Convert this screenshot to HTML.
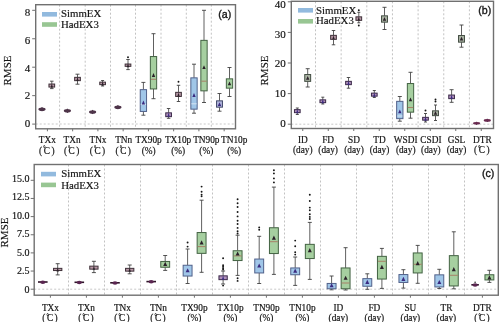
<!DOCTYPE html>
<html><head><meta charset="utf-8"><style>
html,body{margin:0;padding:0;background:#fff;width:499px;height:322px;overflow:hidden}
svg{display:block;will-change:transform;font-family:"Liberation Serif",serif;fill:#111}
text{fill:#151515;stroke:#151515;stroke-width:0.18px}
</style></head><body>
<svg width="499" height="322" viewBox="0 0 499 322">
<rect width="499" height="322" fill="#fff"/>
<line x1="59.6" y1="4.7" x2="59.6" y2="128.8" stroke="#c2c2c2" stroke-width="1" stroke-dasharray="2,2"/>
<line x1="85.2" y1="4.7" x2="85.2" y2="128.8" stroke="#c2c2c2" stroke-width="1" stroke-dasharray="2,2"/>
<line x1="110.5" y1="4.7" x2="110.5" y2="128.8" stroke="#c2c2c2" stroke-width="1" stroke-dasharray="2,2"/>
<line x1="135.5" y1="4.7" x2="135.5" y2="128.8" stroke="#c2c2c2" stroke-width="1" stroke-dasharray="2,2"/>
<line x1="161" y1="4.7" x2="161" y2="128.8" stroke="#c2c2c2" stroke-width="1" stroke-dasharray="2,2"/>
<line x1="186.3" y1="4.7" x2="186.3" y2="128.8" stroke="#c2c2c2" stroke-width="1" stroke-dasharray="2,2"/>
<line x1="211.3" y1="4.7" x2="211.3" y2="128.8" stroke="#c2c2c2" stroke-width="1" stroke-dasharray="2,2"/>
<line x1="35.7" y1="124" x2="235.5" y2="124" stroke="#c8c8c8" stroke-width="1" stroke-dasharray="2,2"/>
<line x1="32.2" y1="124.1" x2="35.7" y2="124.1" stroke="#707070" stroke-width="1"/>
<text x="30.200000000000003" y="126.8" text-anchor="end" font-size="11">0</text>
<line x1="32.2" y1="95.64999999999999" x2="35.7" y2="95.64999999999999" stroke="#707070" stroke-width="1"/>
<text x="30.200000000000003" y="99.2" text-anchor="end" font-size="11">2</text>
<line x1="32.2" y1="67.19999999999999" x2="35.7" y2="67.19999999999999" stroke="#707070" stroke-width="1"/>
<text x="30.200000000000003" y="71.6" text-anchor="end" font-size="11">4</text>
<line x1="32.2" y1="38.75" x2="35.7" y2="38.75" stroke="#707070" stroke-width="1"/>
<text x="30.200000000000003" y="43.999999999999986" text-anchor="end" font-size="11">6</text>
<line x1="32.2" y1="10.299999999999997" x2="35.7" y2="10.299999999999997" stroke="#707070" stroke-width="1"/>
<text x="30.200000000000003" y="16.399999999999988" text-anchor="end" font-size="11">8</text>
<line x1="47.4" y1="128.8" x2="47.4" y2="131.3" stroke="#707070" stroke-width="1"/>
<text x="47.3" y="143.0" text-anchor="middle" font-size="9.3">TXx</text>
<text x="46.8" y="153.5" text-anchor="middle" font-size="9.3">(<tspan dx="1.1" dy="-3.3" font-size="5.5">°</tspan><tspan dx="-1.7" dy="3.3">C</tspan><tspan dx="1.4">)</tspan></text>
<line x1="72.65" y1="128.8" x2="72.65" y2="131.3" stroke="#707070" stroke-width="1"/>
<text x="72.1" y="143.0" text-anchor="middle" font-size="9.3">TXn</text>
<text x="71.6" y="153.5" text-anchor="middle" font-size="9.3">(<tspan dx="1.1" dy="-3.3" font-size="5.5">°</tspan><tspan dx="-1.7" dy="3.3">C</tspan><tspan dx="1.4">)</tspan></text>
<line x1="97.9" y1="128.8" x2="97.9" y2="131.3" stroke="#707070" stroke-width="1"/>
<text x="98" y="143.0" text-anchor="middle" font-size="9.3">TNx</text>
<text x="97.5" y="153.5" text-anchor="middle" font-size="9.3">(<tspan dx="1.1" dy="-3.3" font-size="5.5">°</tspan><tspan dx="-1.7" dy="3.3">C</tspan><tspan dx="1.4">)</tspan></text>
<line x1="123.15" y1="128.8" x2="123.15" y2="131.3" stroke="#707070" stroke-width="1"/>
<text x="123.7" y="143.0" text-anchor="middle" font-size="9.3">TNn</text>
<text x="123.2" y="153.5" text-anchor="middle" font-size="9.3">(<tspan dx="1.1" dy="-3.3" font-size="5.5">°</tspan><tspan dx="-1.7" dy="3.3">C</tspan><tspan dx="1.4">)</tspan></text>
<line x1="148.4" y1="128.8" x2="148.4" y2="131.3" stroke="#707070" stroke-width="1"/>
<text x="148.6" y="143.0" text-anchor="middle" font-size="9.3">TX90p</text>
<text x="148.6" y="153.5" text-anchor="middle" font-size="9.3">(%)</text>
<line x1="173.65" y1="128.8" x2="173.65" y2="131.3" stroke="#707070" stroke-width="1"/>
<text x="178.1" y="143.0" text-anchor="middle" font-size="9.3">TX10p</text>
<text x="178.1" y="153.5" text-anchor="middle" font-size="9.3">(%)</text>
<line x1="198.9" y1="128.8" x2="198.9" y2="131.3" stroke="#707070" stroke-width="1"/>
<text x="206.3" y="143.0" text-anchor="middle" font-size="9.3">TN90p</text>
<text x="206.3" y="153.5" text-anchor="middle" font-size="9.3">(%)</text>
<line x1="224.15" y1="128.8" x2="224.15" y2="131.3" stroke="#707070" stroke-width="1"/>
<text x="234.2" y="143.0" text-anchor="middle" font-size="9.3">TN10p</text>
<text x="234.2" y="153.5" text-anchor="middle" font-size="9.3">(%)</text>
<rect x="42" y="12" width="15" height="4.6" fill="#92bade"/>
<rect x="42" y="22.2" width="15" height="4.6" fill="#98c693"/>
<text x="61" y="16.9" font-size="10.8">SimmEX</text>
<text x="61" y="28.1" font-size="10.8">HadEX3</text>
<text x="231.3" y="17.8" font-size="10.6" text-anchor="end" font-family="Liberation Sans" style="stroke-width:0.35px">(a)</text>
<text x="11.2" y="70.5" font-size="11" text-anchor="middle" transform="rotate(-90 11.2 70.5)">RMSE</text>
<line x1="42" y1="107.15" x2="42" y2="111.25" stroke="#3a2a38" stroke-width="1"/>
<ellipse cx="42" cy="109.2" rx="3.6" ry="1.75" fill="#4e3449"/>
<line x1="51.8" y1="81.2" x2="51.8" y2="84.05" stroke="#606060" stroke-width="1"/>
<line x1="51.8" y1="87.05000000000001" x2="51.8" y2="88.6" stroke="#606060" stroke-width="1"/>
<line x1="50.05" y1="81.2" x2="53.55" y2="81.2" stroke="#404040" stroke-width="0.9"/>
<line x1="50.05" y1="88.6" x2="53.55" y2="88.6" stroke="#404040" stroke-width="0.9"/>
<rect x="48.949999999999996" y="84.05" width="5.7" height="3.000000000000014" fill="#b898a6" stroke="#3e3038" stroke-width="1"/>
<path d="M50.599999999999994 87.55000000000001 L53.0 87.55000000000001 L51.8 83.65000000000002 Z" fill="#2a2028"/>
<line x1="67.4" y1="108.75" x2="67.4" y2="112.85" stroke="#3a2a38" stroke-width="1"/>
<ellipse cx="67.4" cy="110.8" rx="3.6" ry="1.75" fill="#4e3449"/>
<line x1="77.5" y1="74.2" x2="77.5" y2="77.35" stroke="#606060" stroke-width="1"/>
<line x1="77.5" y1="80.65" x2="77.5" y2="84.2" stroke="#606060" stroke-width="1"/>
<line x1="75.5" y1="74.2" x2="79.5" y2="74.2" stroke="#404040" stroke-width="0.9"/>
<line x1="75.5" y1="84.2" x2="79.5" y2="84.2" stroke="#404040" stroke-width="0.9"/>
<rect x="74.65" y="77.35" width="5.7" height="3.3000000000000114" fill="#b898a6" stroke="#3e3038" stroke-width="1"/>
<path d="M76.3 81.0 L78.7 81.0 L77.5 77.10000000000001 Z" fill="#2a2028"/>
<line x1="92.6" y1="109.95" x2="92.6" y2="114.05" stroke="#3a2a38" stroke-width="1"/>
<ellipse cx="92.6" cy="112" rx="3.6" ry="1.75" fill="#4e3449"/>
<line x1="102.6" y1="80.5" x2="102.6" y2="82.14999999999999" stroke="#606060" stroke-width="1"/>
<line x1="102.6" y1="84.65" x2="102.6" y2="86" stroke="#606060" stroke-width="1"/>
<line x1="101.1" y1="80.5" x2="104.1" y2="80.5" stroke="#404040" stroke-width="0.9"/>
<line x1="101.1" y1="86" x2="104.1" y2="86" stroke="#404040" stroke-width="0.9"/>
<rect x="99.75" y="82.14999999999999" width="5.7" height="2.500000000000014" fill="#b898a6" stroke="#3e3038" stroke-width="1"/>
<path d="M101.39999999999999 85.4 L103.8 85.4 L102.6 81.50000000000001 Z" fill="#2a2028"/>
<line x1="117.9" y1="105.15" x2="117.9" y2="109.25" stroke="#3a2a38" stroke-width="1"/>
<ellipse cx="117.9" cy="107.2" rx="3.6" ry="1.75" fill="#4e3449"/>
<line x1="128" y1="59.5" x2="128" y2="64.05" stroke="#606060" stroke-width="1"/>
<line x1="128" y1="66.35000000000001" x2="128" y2="69.6" stroke="#606060" stroke-width="1"/>
<line x1="126.25" y1="59.5" x2="129.75" y2="59.5" stroke="#404040" stroke-width="0.9"/>
<line x1="126.25" y1="69.6" x2="129.75" y2="69.6" stroke="#404040" stroke-width="0.9"/>
<rect x="125.15" y="64.05" width="5.7" height="2.3000000000000114" fill="#b898a6" stroke="#3e3038" stroke-width="1"/>
<path d="M126.8 67.2 L129.2 67.2 L128 63.30000000000001 Z" fill="#2a2028"/>
<circle cx="128" cy="57.3" r="0.95" fill="#151515"/>
<line x1="143.4" y1="82.4" x2="143.4" y2="89.64999999999999" stroke="#606060" stroke-width="1"/>
<line x1="143.4" y1="111.45" x2="143.4" y2="115.2" stroke="#606060" stroke-width="1"/>
<line x1="141.4" y1="82.4" x2="145.4" y2="82.4" stroke="#404040" stroke-width="0.9"/>
<line x1="141.4" y1="115.2" x2="145.4" y2="115.2" stroke="#404040" stroke-width="0.9"/>
<rect x="140.25" y="89.64999999999999" width="6.3" height="21.80000000000001" fill="#a0c6e8" stroke="#51618a" stroke-width="1"/>
<line x1="140.75" y1="104.4" x2="146.05" y2="104.4" stroke="#dce8f4" stroke-width="0.9"/>
<path d="M141.70000000000002 104.5 L145.1 104.5 L143.4 100.60000000000001 Z" fill="#3a2a80"/>
<line x1="153.5" y1="33.7" x2="153.5" y2="56.550000000000004" stroke="#606060" stroke-width="1"/>
<line x1="153.5" y1="88.95" x2="153.5" y2="98.7" stroke="#606060" stroke-width="1"/>
<line x1="151.5" y1="33.7" x2="155.5" y2="33.7" stroke="#404040" stroke-width="0.9"/>
<line x1="151.5" y1="98.7" x2="155.5" y2="98.7" stroke="#404040" stroke-width="0.9"/>
<rect x="150.35" y="56.550000000000004" width="6.3" height="32.4" fill="#a6cfa0" stroke="#426242" stroke-width="1"/>
<line x1="150.85" y1="79.3" x2="156.15" y2="79.3" stroke="#a87862" stroke-width="0.9"/>
<path d="M151.8 77.0 L155.2 77.0 L153.5 73.10000000000001 Z" fill="#2a2028"/>
<line x1="168.6" y1="108.5" x2="168.6" y2="112.85" stroke="#606060" stroke-width="1"/>
<line x1="168.6" y1="116.65" x2="168.6" y2="118.3" stroke="#606060" stroke-width="1"/>
<line x1="166.85" y1="108.5" x2="170.35" y2="108.5" stroke="#404040" stroke-width="0.9"/>
<line x1="166.85" y1="118.3" x2="170.35" y2="118.3" stroke="#404040" stroke-width="0.9"/>
<rect x="165.75" y="112.85" width="5.7" height="3.8000000000000114" fill="#b090bc" stroke="#3a2848" stroke-width="1"/>
<path d="M167.4 116.75 L169.79999999999998 116.75 L168.6 112.85000000000001 Z" fill="#3a2a80"/>
<line x1="178.5" y1="85.3" x2="178.5" y2="92.35" stroke="#606060" stroke-width="1"/>
<line x1="178.5" y1="96.45" x2="178.5" y2="101.5" stroke="#606060" stroke-width="1"/>
<line x1="176.75" y1="85.3" x2="180.25" y2="85.3" stroke="#404040" stroke-width="0.9"/>
<line x1="176.75" y1="101.5" x2="180.25" y2="101.5" stroke="#404040" stroke-width="0.9"/>
<rect x="175.65" y="92.35" width="5.7" height="4.1000000000000085" fill="#b898a6" stroke="#3e3038" stroke-width="1"/>
<path d="M177.3 96.4 L179.7 96.4 L178.5 92.50000000000001 Z" fill="#2a2028"/>
<circle cx="178.5" cy="81.8" r="0.95" fill="#151515"/>
<line x1="194" y1="64.2" x2="194" y2="77.85" stroke="#606060" stroke-width="1"/>
<line x1="194" y1="109.15" x2="194" y2="113.2" stroke="#606060" stroke-width="1"/>
<line x1="192.0" y1="64.2" x2="196.0" y2="64.2" stroke="#404040" stroke-width="0.9"/>
<line x1="192.0" y1="113.2" x2="196.0" y2="113.2" stroke="#404040" stroke-width="0.9"/>
<rect x="190.85" y="77.85" width="6.3" height="31.30000000000001" fill="#a0c6e8" stroke="#51618a" stroke-width="1"/>
<line x1="191.35" y1="103.8" x2="196.65" y2="103.8" stroke="#dce8f4" stroke-width="0.9"/>
<path d="M192.3 97.0 L195.7 97.0 L194 93.10000000000001 Z" fill="#3a2a80"/>
<line x1="204" y1="10.3" x2="204" y2="40.35" stroke="#606060" stroke-width="1"/>
<line x1="204" y1="90.85000000000001" x2="204" y2="102.5" stroke="#606060" stroke-width="1"/>
<line x1="202.0" y1="10.3" x2="206.0" y2="10.3" stroke="#404040" stroke-width="0.9"/>
<line x1="202.0" y1="102.5" x2="206.0" y2="102.5" stroke="#404040" stroke-width="0.9"/>
<rect x="200.85" y="40.35" width="6.3" height="50.50000000000001" fill="#a6cfa0" stroke="#426242" stroke-width="1"/>
<line x1="201.35" y1="81.2" x2="206.65" y2="81.2" stroke="#a87862" stroke-width="0.9"/>
<path d="M202.3 69.1 L205.7 69.1 L204 65.2 Z" fill="#2a2028"/>
<line x1="219.5" y1="93.5" x2="219.5" y2="100.85" stroke="#606060" stroke-width="1"/>
<line x1="219.5" y1="107.15" x2="219.5" y2="111.2" stroke="#606060" stroke-width="1"/>
<line x1="217.5" y1="93.5" x2="221.5" y2="93.5" stroke="#404040" stroke-width="0.9"/>
<line x1="217.5" y1="111.2" x2="221.5" y2="111.2" stroke="#404040" stroke-width="0.9"/>
<rect x="216.55" y="100.85" width="5.8999999999999995" height="6.300000000000011" fill="#b0b4dc" stroke="#404868" stroke-width="1"/>
<path d="M217.8 106.1 L221.2 106.1 L219.5 102.2 Z" fill="#3a2a80"/>
<line x1="229.5" y1="67.5" x2="229.5" y2="78.85" stroke="#606060" stroke-width="1"/>
<line x1="229.5" y1="88.15" x2="229.5" y2="96.5" stroke="#606060" stroke-width="1"/>
<line x1="227.5" y1="67.5" x2="231.5" y2="67.5" stroke="#404040" stroke-width="0.9"/>
<line x1="227.5" y1="96.5" x2="231.5" y2="96.5" stroke="#404040" stroke-width="0.9"/>
<rect x="226.35" y="78.85" width="6.3" height="9.300000000000011" fill="#a6cfa0" stroke="#426242" stroke-width="1"/>
<path d="M227.8 85.3 L231.2 85.3 L229.5 81.4 Z" fill="#2a2028"/>
<rect x="35.7" y="4.7" width="199.8" height="124.10000000000001" fill="none" stroke="#707070" stroke-width="1.4"/>
<line x1="315.5" y1="1.3" x2="315.5" y2="128.5" stroke="#c2c2c2" stroke-width="1" stroke-dasharray="2,2"/>
<line x1="341.15" y1="1.3" x2="341.15" y2="128.5" stroke="#c2c2c2" stroke-width="1" stroke-dasharray="2,2"/>
<line x1="366.8" y1="1.3" x2="366.8" y2="128.5" stroke="#c2c2c2" stroke-width="1" stroke-dasharray="2,2"/>
<line x1="392.45" y1="1.3" x2="392.45" y2="128.5" stroke="#c2c2c2" stroke-width="1" stroke-dasharray="2,2"/>
<line x1="418.1" y1="1.3" x2="418.1" y2="128.5" stroke="#c2c2c2" stroke-width="1" stroke-dasharray="2,2"/>
<line x1="443.75" y1="1.3" x2="443.75" y2="128.5" stroke="#c2c2c2" stroke-width="1" stroke-dasharray="2,2"/>
<line x1="469.4" y1="1.3" x2="469.4" y2="128.5" stroke="#c2c2c2" stroke-width="1" stroke-dasharray="2,2"/>
<line x1="291.3" y1="124.2" x2="493.5" y2="124.2" stroke="#c8c8c8" stroke-width="1" stroke-dasharray="2,2"/>
<line x1="287.8" y1="124.2" x2="291.3" y2="124.2" stroke="#707070" stroke-width="1"/>
<text x="285.8" y="126.95" text-anchor="end" font-size="11">0</text>
<line x1="287.8" y1="93.6" x2="291.3" y2="93.6" stroke="#707070" stroke-width="1"/>
<text x="285.8" y="97.15" text-anchor="end" font-size="11">10</text>
<line x1="287.8" y1="63.0" x2="291.3" y2="63.0" stroke="#707070" stroke-width="1"/>
<text x="285.8" y="67.35" text-anchor="end" font-size="11">20</text>
<line x1="287.8" y1="32.39999999999999" x2="291.3" y2="32.39999999999999" stroke="#707070" stroke-width="1"/>
<text x="285.8" y="37.55" text-anchor="end" font-size="11">30</text>
<line x1="287.8" y1="1.7999999999999972" x2="291.3" y2="1.7999999999999972" stroke="#707070" stroke-width="1"/>
<text x="285.8" y="7.749999999999997" text-anchor="end" font-size="11">40</text>
<line x1="302.75" y1="128.5" x2="302.75" y2="131.0" stroke="#707070" stroke-width="1"/>
<text x="302.8" y="142.7" text-anchor="middle" font-size="9.3">ID</text>
<text x="302.8" y="153.2" text-anchor="middle" font-size="9.3">(day)</text>
<line x1="328.25" y1="128.5" x2="328.25" y2="131.0" stroke="#707070" stroke-width="1"/>
<text x="328.1" y="142.7" text-anchor="middle" font-size="9.3">FD</text>
<text x="328.1" y="153.2" text-anchor="middle" font-size="9.3">(day)</text>
<line x1="353.75" y1="128.5" x2="353.75" y2="131.0" stroke="#707070" stroke-width="1"/>
<text x="354" y="142.7" text-anchor="middle" font-size="9.3">SD</text>
<text x="354" y="153.2" text-anchor="middle" font-size="9.3">(day)</text>
<line x1="379.25" y1="128.5" x2="379.25" y2="131.0" stroke="#707070" stroke-width="1"/>
<text x="379.5" y="142.7" text-anchor="middle" font-size="9.3">TD</text>
<text x="379.5" y="153.2" text-anchor="middle" font-size="9.3">(day)</text>
<line x1="404.75" y1="128.5" x2="404.75" y2="131.0" stroke="#707070" stroke-width="1"/>
<text x="405.7" y="142.7" text-anchor="middle" font-size="9.3">WSDI</text>
<text x="405.7" y="153.2" text-anchor="middle" font-size="9.3">(day)</text>
<line x1="430.25" y1="128.5" x2="430.25" y2="131.0" stroke="#707070" stroke-width="1"/>
<text x="430.9" y="142.7" text-anchor="middle" font-size="9.3">CSDI</text>
<text x="430.9" y="153.2" text-anchor="middle" font-size="9.3">(day)</text>
<line x1="455.75" y1="128.5" x2="455.75" y2="131.0" stroke="#707070" stroke-width="1"/>
<text x="456.5" y="142.7" text-anchor="middle" font-size="9.3">GSL</text>
<text x="456.5" y="153.2" text-anchor="middle" font-size="9.3">(day)</text>
<line x1="481.25" y1="128.5" x2="481.25" y2="131.0" stroke="#707070" stroke-width="1"/>
<text x="482.3" y="142.7" text-anchor="middle" font-size="9.3">DTR</text>
<text x="481.8" y="153.2" text-anchor="middle" font-size="9.3">(<tspan dx="1.1" dy="-3.3" font-size="5.5">°</tspan><tspan dx="-1.7" dy="3.3">C</tspan><tspan dx="1.4">)</tspan></text>
<rect x="298" y="8" width="15" height="4.6" fill="#92bade"/>
<rect x="298" y="19" width="15" height="4.6" fill="#98c693"/>
<text x="316" y="13.6" font-size="10.8">SimmEX</text>
<text x="316" y="24.3" font-size="10.8">HadEX3</text>
<text x="491.3" y="14" font-size="10.6" text-anchor="end" font-family="Liberation Sans" style="stroke-width:0.35px">(b)</text>
<text x="267.5" y="70.5" font-size="11" text-anchor="middle" transform="rotate(-90 267.5 70.5)">RMSE</text>
<line x1="297.3" y1="108" x2="297.3" y2="109.64999999999999" stroke="#606060" stroke-width="1"/>
<line x1="297.3" y1="112.65" x2="297.3" y2="114.5" stroke="#606060" stroke-width="1"/>
<line x1="295.8" y1="108" x2="298.8" y2="108" stroke="#404040" stroke-width="0.9"/>
<line x1="295.8" y1="114.5" x2="298.8" y2="114.5" stroke="#404040" stroke-width="0.9"/>
<rect x="294.45" y="109.64999999999999" width="5.7" height="3.000000000000014" fill="#b090bc" stroke="#3a2848" stroke-width="1"/>
<path d="M296.1 113.15 L298.5 113.15 L297.3 109.25000000000001 Z" fill="#3a2a80"/>
<line x1="307.7" y1="68.7" x2="307.7" y2="74.55" stroke="#606060" stroke-width="1"/>
<line x1="307.7" y1="81.35000000000001" x2="307.7" y2="87" stroke="#606060" stroke-width="1"/>
<line x1="305.7" y1="68.7" x2="309.7" y2="68.7" stroke="#404040" stroke-width="0.9"/>
<line x1="305.7" y1="87" x2="309.7" y2="87" stroke="#404040" stroke-width="0.9"/>
<rect x="304.75" y="74.55" width="5.8999999999999995" height="6.800000000000011" fill="#adb6a6" stroke="#3f4a3f" stroke-width="1"/>
<path d="M306.0 79.8 L309.4 79.8 L307.7 75.9 Z" fill="#2a2028"/>
<line x1="322.8" y1="97.2" x2="322.8" y2="99.85" stroke="#606060" stroke-width="1"/>
<line x1="322.8" y1="102.65" x2="322.8" y2="104" stroke="#606060" stroke-width="1"/>
<line x1="321.3" y1="97.2" x2="324.3" y2="97.2" stroke="#404040" stroke-width="0.9"/>
<line x1="321.3" y1="104" x2="324.3" y2="104" stroke="#404040" stroke-width="0.9"/>
<rect x="319.95" y="99.85" width="5.7" height="2.8000000000000114" fill="#b090bc" stroke="#3a2848" stroke-width="1"/>
<path d="M321.6 103.25 L324.0 103.25 L322.8 99.35000000000001 Z" fill="#3a2a80"/>
<line x1="333.5" y1="30.5" x2="333.5" y2="35.35" stroke="#606060" stroke-width="1"/>
<line x1="333.5" y1="39.35" x2="333.5" y2="44.8" stroke="#606060" stroke-width="1"/>
<line x1="331.75" y1="30.5" x2="335.25" y2="30.5" stroke="#404040" stroke-width="0.9"/>
<line x1="331.75" y1="44.8" x2="335.25" y2="44.8" stroke="#404040" stroke-width="0.9"/>
<rect x="330.65" y="35.35" width="5.7" height="4.0" fill="#b898a6" stroke="#3e3038" stroke-width="1"/>
<path d="M332.3 39.35 L334.7 39.35 L333.5 35.45000000000001 Z" fill="#2a2028"/>
<line x1="348.5" y1="77.5" x2="348.5" y2="81.35" stroke="#606060" stroke-width="1"/>
<line x1="348.5" y1="84.65" x2="348.5" y2="88.2" stroke="#606060" stroke-width="1"/>
<line x1="346.75" y1="77.5" x2="350.25" y2="77.5" stroke="#404040" stroke-width="0.9"/>
<line x1="346.75" y1="88.2" x2="350.25" y2="88.2" stroke="#404040" stroke-width="0.9"/>
<rect x="345.65" y="81.35" width="5.7" height="3.3000000000000114" fill="#b090bc" stroke="#3a2848" stroke-width="1"/>
<path d="M347.3 85.0 L349.7 85.0 L348.5 81.10000000000001 Z" fill="#3a2a80"/>
<line x1="358.8" y1="12.3" x2="358.8" y2="16.85" stroke="#606060" stroke-width="1"/>
<line x1="358.8" y1="20.349999999999998" x2="358.8" y2="22.8" stroke="#606060" stroke-width="1"/>
<line x1="357.3" y1="12.3" x2="360.3" y2="12.3" stroke="#404040" stroke-width="0.9"/>
<line x1="357.3" y1="22.8" x2="360.3" y2="22.8" stroke="#404040" stroke-width="0.9"/>
<rect x="355.95" y="16.85" width="5.7" height="3.4999999999999964" fill="#b898a6" stroke="#3e3038" stroke-width="1"/>
<path d="M357.6 20.6 L360.0 20.6 L358.8 16.7 Z" fill="#2a2028"/>
<circle cx="358.8" cy="10.2" r="0.95" fill="#151515"/>
<circle cx="358.8" cy="25.5" r="0.95" fill="#151515"/>
<line x1="374.3" y1="90.5" x2="374.3" y2="93.14999999999999" stroke="#606060" stroke-width="1"/>
<line x1="374.3" y1="96.15" x2="374.3" y2="97.5" stroke="#606060" stroke-width="1"/>
<line x1="372.8" y1="90.5" x2="375.8" y2="90.5" stroke="#404040" stroke-width="0.9"/>
<line x1="372.8" y1="97.5" x2="375.8" y2="97.5" stroke="#404040" stroke-width="0.9"/>
<rect x="371.45" y="93.14999999999999" width="5.7" height="3.000000000000014" fill="#b090bc" stroke="#3a2848" stroke-width="1"/>
<path d="M373.1 96.65 L375.5 96.65 L374.3 92.75000000000001 Z" fill="#3a2a80"/>
<line x1="384.5" y1="7.3" x2="384.5" y2="15.85" stroke="#606060" stroke-width="1"/>
<line x1="384.5" y1="22.15" x2="384.5" y2="29.5" stroke="#606060" stroke-width="1"/>
<line x1="382.5" y1="7.3" x2="386.5" y2="7.3" stroke="#404040" stroke-width="0.9"/>
<line x1="382.5" y1="29.5" x2="386.5" y2="29.5" stroke="#404040" stroke-width="0.9"/>
<rect x="381.55" y="15.85" width="5.8999999999999995" height="6.299999999999999" fill="#adb6a6" stroke="#3f4a3f" stroke-width="1"/>
<path d="M382.8 20.8 L386.2 20.8 L384.5 16.9 Z" fill="#2a2028"/>
<line x1="399.8" y1="96.5" x2="399.8" y2="101.35" stroke="#606060" stroke-width="1"/>
<line x1="399.8" y1="118.65" x2="399.8" y2="121.2" stroke="#606060" stroke-width="1"/>
<line x1="397.8" y1="96.5" x2="401.8" y2="96.5" stroke="#404040" stroke-width="0.9"/>
<line x1="397.8" y1="121.2" x2="401.8" y2="121.2" stroke="#404040" stroke-width="0.9"/>
<rect x="396.65000000000003" y="101.35" width="6.3" height="17.30000000000001" fill="#a0c6e8" stroke="#51618a" stroke-width="1"/>
<line x1="397.15000000000003" y1="116" x2="402.45" y2="116" stroke="#dce8f4" stroke-width="0.9"/>
<path d="M398.1 113.3 L401.5 113.3 L399.8 109.4 Z" fill="#3a2a80"/>
<line x1="410.5" y1="72.3" x2="410.5" y2="83.55" stroke="#606060" stroke-width="1"/>
<line x1="410.5" y1="112.15" x2="410.5" y2="118.2" stroke="#606060" stroke-width="1"/>
<line x1="408.5" y1="72.3" x2="412.5" y2="72.3" stroke="#404040" stroke-width="0.9"/>
<line x1="408.5" y1="118.2" x2="412.5" y2="118.2" stroke="#404040" stroke-width="0.9"/>
<rect x="407.35" y="83.55" width="6.3" height="28.60000000000001" fill="#a6cfa0" stroke="#426242" stroke-width="1"/>
<line x1="407.85" y1="107.5" x2="413.15" y2="107.5" stroke="#a87862" stroke-width="0.9"/>
<path d="M408.8 101.3 L412.2 101.3 L410.5 97.4 Z" fill="#2a2028"/>
<line x1="425.5" y1="113.5" x2="425.5" y2="117.35" stroke="#606060" stroke-width="1"/>
<line x1="425.5" y1="120.15" x2="425.5" y2="122" stroke="#606060" stroke-width="1"/>
<line x1="424.0" y1="113.5" x2="427.0" y2="113.5" stroke="#404040" stroke-width="0.9"/>
<line x1="424.0" y1="122" x2="427.0" y2="122" stroke="#404040" stroke-width="0.9"/>
<rect x="422.65" y="117.35" width="5.7" height="2.8000000000000114" fill="#b090bc" stroke="#3a2848" stroke-width="1"/>
<path d="M424.3 120.75 L426.7 120.75 L425.5 116.85000000000001 Z" fill="#3a2a80"/>
<circle cx="425.5" cy="110.5" r="0.95" fill="#151515"/>
<line x1="435.5" y1="105" x2="435.5" y2="110.85" stroke="#606060" stroke-width="1"/>
<line x1="435.5" y1="115.65" x2="435.5" y2="120.5" stroke="#606060" stroke-width="1"/>
<line x1="434.0" y1="105" x2="437.0" y2="105" stroke="#404040" stroke-width="0.9"/>
<line x1="434.0" y1="120.5" x2="437.0" y2="120.5" stroke="#404040" stroke-width="0.9"/>
<rect x="432.55" y="110.85" width="5.8999999999999995" height="4.800000000000011" fill="#adb6a6" stroke="#3f4a3f" stroke-width="1"/>
<path d="M433.8 114.8 L437.2 114.8 L435.5 110.9 Z" fill="#2a2028"/>
<circle cx="435.5" cy="99.5" r="0.95" fill="#151515"/>
<circle cx="435.5" cy="101.5" r="0.95" fill="#151515"/>
<line x1="451.6" y1="89.7" x2="451.6" y2="95.05" stroke="#606060" stroke-width="1"/>
<line x1="451.6" y1="98.65" x2="451.6" y2="102.3" stroke="#606060" stroke-width="1"/>
<line x1="449.6" y1="89.7" x2="453.6" y2="89.7" stroke="#404040" stroke-width="0.9"/>
<line x1="449.6" y1="102.3" x2="453.6" y2="102.3" stroke="#404040" stroke-width="0.9"/>
<rect x="448.75" y="95.05" width="5.7" height="3.6000000000000085" fill="#b090bc" stroke="#3a2848" stroke-width="1"/>
<path d="M450.40000000000003 98.85 L452.8 98.85 L451.6 94.95 Z" fill="#3a2a80"/>
<line x1="461.5" y1="25" x2="461.5" y2="35.550000000000004" stroke="#606060" stroke-width="1"/>
<line x1="461.5" y1="42.15" x2="461.5" y2="47.2" stroke="#606060" stroke-width="1"/>
<line x1="459.5" y1="25" x2="463.5" y2="25" stroke="#404040" stroke-width="0.9"/>
<line x1="459.5" y1="47.2" x2="463.5" y2="47.2" stroke="#404040" stroke-width="0.9"/>
<rect x="458.55" y="35.550000000000004" width="5.8999999999999995" height="6.599999999999994" fill="#adb6a6" stroke="#3f4a3f" stroke-width="1"/>
<path d="M459.8 40.5 L463.2 40.5 L461.5 36.60000000000001 Z" fill="#2a2028"/>
<line x1="476.6" y1="121.8" x2="476.6" y2="124.8" stroke="#3a2a38" stroke-width="1"/>
<ellipse cx="476.6" cy="123.3" rx="3.6" ry="1.3" fill="#6a2a50"/>
<line x1="487.3" y1="118.80000000000001" x2="487.3" y2="122.0" stroke="#3a2a38" stroke-width="1"/>
<ellipse cx="487.3" cy="120.4" rx="3.6" ry="1.3" fill="#6a2a50"/>
<rect x="291.3" y="1.3" width="202.2" height="127.2" fill="none" stroke="#707070" stroke-width="1.4"/>
<line x1="68.5" y1="164.5" x2="68.5" y2="295.2" stroke="#c2c2c2" stroke-width="1" stroke-dasharray="2,2"/>
<line x1="104.5" y1="164.5" x2="104.5" y2="295.2" stroke="#c2c2c2" stroke-width="1" stroke-dasharray="2,2"/>
<line x1="140.5" y1="164.5" x2="140.5" y2="295.2" stroke="#c2c2c2" stroke-width="1" stroke-dasharray="2,2"/>
<line x1="176.5" y1="164.5" x2="176.5" y2="295.2" stroke="#c2c2c2" stroke-width="1" stroke-dasharray="2,2"/>
<line x1="212.5" y1="164.5" x2="212.5" y2="295.2" stroke="#c2c2c2" stroke-width="1" stroke-dasharray="2,2"/>
<line x1="248.5" y1="164.5" x2="248.5" y2="295.2" stroke="#c2c2c2" stroke-width="1" stroke-dasharray="2,2"/>
<line x1="284.5" y1="164.5" x2="284.5" y2="295.2" stroke="#c2c2c2" stroke-width="1" stroke-dasharray="2,2"/>
<line x1="320.5" y1="164.5" x2="320.5" y2="295.2" stroke="#c2c2c2" stroke-width="1" stroke-dasharray="2,2"/>
<line x1="356.5" y1="164.5" x2="356.5" y2="295.2" stroke="#c2c2c2" stroke-width="1" stroke-dasharray="2,2"/>
<line x1="392.5" y1="164.5" x2="392.5" y2="295.2" stroke="#c2c2c2" stroke-width="1" stroke-dasharray="2,2"/>
<line x1="428.5" y1="164.5" x2="428.5" y2="295.2" stroke="#c2c2c2" stroke-width="1" stroke-dasharray="2,2"/>
<line x1="464.5" y1="164.5" x2="464.5" y2="295.2" stroke="#c2c2c2" stroke-width="1" stroke-dasharray="2,2"/>
<line x1="34.2" y1="289.2" x2="498.3" y2="289.2" stroke="#c8c8c8" stroke-width="1" stroke-dasharray="2,2"/>
<line x1="30.700000000000003" y1="289.2" x2="34.2" y2="289.2" stroke="#707070" stroke-width="1"/>
<text x="29.400000000000002" y="292.9" text-anchor="end" font-size="10">0</text>
<line x1="30.700000000000003" y1="271.05" x2="34.2" y2="271.05" stroke="#707070" stroke-width="1"/>
<text x="29.400000000000002" y="274.38" text-anchor="end" font-size="10">2.5</text>
<line x1="30.700000000000003" y1="252.89999999999998" x2="34.2" y2="252.89999999999998" stroke="#707070" stroke-width="1"/>
<text x="29.400000000000002" y="255.85999999999999" text-anchor="end" font-size="10">5.0</text>
<line x1="30.700000000000003" y1="234.75" x2="34.2" y2="234.75" stroke="#707070" stroke-width="1"/>
<text x="29.400000000000002" y="237.33999999999997" text-anchor="end" font-size="10">7.5</text>
<line x1="30.700000000000003" y1="216.6" x2="34.2" y2="216.6" stroke="#707070" stroke-width="1"/>
<text x="29.400000000000002" y="218.82" text-anchor="end" font-size="10">10.0</text>
<line x1="30.700000000000003" y1="198.45" x2="34.2" y2="198.45" stroke="#707070" stroke-width="1"/>
<text x="29.400000000000002" y="200.29999999999998" text-anchor="end" font-size="10">12.5</text>
<line x1="30.700000000000003" y1="180.3" x2="34.2" y2="180.3" stroke="#707070" stroke-width="1"/>
<text x="29.400000000000002" y="181.77999999999997" text-anchor="end" font-size="10">15.0</text>
<line x1="50.4" y1="295.2" x2="50.4" y2="297.7" stroke="#707070" stroke-width="1"/>
<text x="50.4" y="310.7" text-anchor="middle" font-size="9.3">TXx</text>
<text x="49.9" y="320.9" text-anchor="middle" font-size="9.3">(<tspan dx="1.1" dy="-3.3" font-size="5.5">°</tspan><tspan dx="-1.7" dy="3.3">C</tspan><tspan dx="1.4">)</tspan></text>
<line x1="86.4" y1="295.2" x2="86.4" y2="297.7" stroke="#707070" stroke-width="1"/>
<text x="86.4" y="310.7" text-anchor="middle" font-size="9.3">TXn</text>
<text x="85.9" y="320.9" text-anchor="middle" font-size="9.3">(<tspan dx="1.1" dy="-3.3" font-size="5.5">°</tspan><tspan dx="-1.7" dy="3.3">C</tspan><tspan dx="1.4">)</tspan></text>
<line x1="122.4" y1="295.2" x2="122.4" y2="297.7" stroke="#707070" stroke-width="1"/>
<text x="122.4" y="310.7" text-anchor="middle" font-size="9.3">TNx</text>
<text x="121.9" y="320.9" text-anchor="middle" font-size="9.3">(<tspan dx="1.1" dy="-3.3" font-size="5.5">°</tspan><tspan dx="-1.7" dy="3.3">C</tspan><tspan dx="1.4">)</tspan></text>
<line x1="158.4" y1="295.2" x2="158.4" y2="297.7" stroke="#707070" stroke-width="1"/>
<text x="158.4" y="310.7" text-anchor="middle" font-size="9.3">TNn</text>
<text x="157.9" y="320.9" text-anchor="middle" font-size="9.3">(<tspan dx="1.1" dy="-3.3" font-size="5.5">°</tspan><tspan dx="-1.7" dy="3.3">C</tspan><tspan dx="1.4">)</tspan></text>
<line x1="194.4" y1="295.2" x2="194.4" y2="297.7" stroke="#707070" stroke-width="1"/>
<text x="194.4" y="310.7" text-anchor="middle" font-size="9.3">TX90p</text>
<text x="194.4" y="320.9" text-anchor="middle" font-size="9.3">(%)</text>
<line x1="230.4" y1="295.2" x2="230.4" y2="297.7" stroke="#707070" stroke-width="1"/>
<text x="230.4" y="310.7" text-anchor="middle" font-size="9.3">TX10p</text>
<text x="230.4" y="320.9" text-anchor="middle" font-size="9.3">(%)</text>
<line x1="266.4" y1="295.2" x2="266.4" y2="297.7" stroke="#707070" stroke-width="1"/>
<text x="266.4" y="310.7" text-anchor="middle" font-size="9.3">TN90p</text>
<text x="266.4" y="320.9" text-anchor="middle" font-size="9.3">(%)</text>
<line x1="302.4" y1="295.2" x2="302.4" y2="297.7" stroke="#707070" stroke-width="1"/>
<text x="302.4" y="310.7" text-anchor="middle" font-size="9.3">TN10p</text>
<text x="302.4" y="320.9" text-anchor="middle" font-size="9.3">(%)</text>
<line x1="338.4" y1="295.2" x2="338.4" y2="297.7" stroke="#707070" stroke-width="1"/>
<text x="338.4" y="310.7" text-anchor="middle" font-size="9.3">ID</text>
<text x="338.4" y="320.9" text-anchor="middle" font-size="9.3">(day)</text>
<line x1="374.4" y1="295.2" x2="374.4" y2="297.7" stroke="#707070" stroke-width="1"/>
<text x="374.4" y="310.7" text-anchor="middle" font-size="9.3">FD</text>
<text x="374.4" y="320.9" text-anchor="middle" font-size="9.3">(day)</text>
<line x1="410.4" y1="295.2" x2="410.4" y2="297.7" stroke="#707070" stroke-width="1"/>
<text x="410.4" y="310.7" text-anchor="middle" font-size="9.3">SU</text>
<text x="410.4" y="320.9" text-anchor="middle" font-size="9.3">(day)</text>
<line x1="446.4" y1="295.2" x2="446.4" y2="297.7" stroke="#707070" stroke-width="1"/>
<text x="446.4" y="310.7" text-anchor="middle" font-size="9.3">TR</text>
<text x="446.4" y="320.9" text-anchor="middle" font-size="9.3">(day)</text>
<line x1="482.4" y1="295.2" x2="482.4" y2="297.7" stroke="#707070" stroke-width="1"/>
<text x="482.4" y="310.7" text-anchor="middle" font-size="9.3">DTR</text>
<text x="481.9" y="320.9" text-anchor="middle" font-size="9.3">(<tspan dx="1.1" dy="-3.3" font-size="5.5">°</tspan><tspan dx="-1.7" dy="3.3">C</tspan><tspan dx="1.4">)</tspan></text>
<rect x="41" y="171.8" width="15" height="4.6" fill="#92bade"/>
<rect x="41" y="182.6" width="15" height="4.6" fill="#98c693"/>
<text x="61.2" y="176.70000000000002" font-size="10.8">SimmEX</text>
<text x="61.2" y="188.5" font-size="10.8">HadEX3</text>
<text x="494.3" y="177" font-size="10.6" text-anchor="end" font-family="Liberation Sans" style="stroke-width:0.35px">(c)</text>
<text x="7.5" y="232.5" font-size="11" text-anchor="middle" transform="rotate(-90 7.5 232.5)">RMSE</text>
<line x1="38.0" y1="282" x2="47.599999999999994" y2="282" stroke="#2e1428" stroke-width="1.6"/>
<ellipse cx="42.8" cy="282.2" rx="2.6" ry="1.8" fill="#5a2550"/>
<line x1="57.7" y1="263.7" x2="57.7" y2="268.35" stroke="#606060" stroke-width="1"/>
<line x1="57.7" y1="270.54999999999995" x2="57.7" y2="274.9" stroke="#606060" stroke-width="1"/>
<line x1="55.7" y1="263.7" x2="59.7" y2="263.7" stroke="#404040" stroke-width="0.9"/>
<line x1="55.7" y1="274.9" x2="59.7" y2="274.9" stroke="#404040" stroke-width="0.9"/>
<rect x="53.550000000000004" y="268.35" width="8.3" height="2.199999999999932" fill="#b898a6" stroke="#3e3038" stroke-width="1"/>
<path d="M56.5 271.54999999999995 L58.900000000000006 271.54999999999995 L57.7 267.45 Z" fill="#2a2028"/>
<line x1="74.5" y1="282.3" x2="84.1" y2="282.3" stroke="#2e1428" stroke-width="1.6"/>
<ellipse cx="79.3" cy="282.5" rx="2.6" ry="1.8" fill="#5a2550"/>
<line x1="93.9" y1="261.3" x2="93.9" y2="266.15000000000003" stroke="#606060" stroke-width="1"/>
<line x1="93.9" y1="269.15" x2="93.9" y2="272.6" stroke="#606060" stroke-width="1"/>
<line x1="91.9" y1="261.3" x2="95.9" y2="261.3" stroke="#404040" stroke-width="0.9"/>
<line x1="91.9" y1="272.6" x2="95.9" y2="272.6" stroke="#404040" stroke-width="0.9"/>
<rect x="89.75" y="266.15000000000003" width="8.3" height="2.999999999999943" fill="#b898a6" stroke="#3e3038" stroke-width="1"/>
<path d="M92.7 269.74999999999994 L95.10000000000001 269.74999999999994 L93.9 265.65 Z" fill="#2a2028"/>
<line x1="110.2" y1="282.8" x2="119.8" y2="282.8" stroke="#2e1428" stroke-width="1.6"/>
<ellipse cx="115" cy="283.0" rx="2.6" ry="1.8" fill="#5a2550"/>
<line x1="129.7" y1="265" x2="129.7" y2="268.35" stroke="#606060" stroke-width="1"/>
<line x1="129.7" y1="271.15" x2="129.7" y2="273.8" stroke="#606060" stroke-width="1"/>
<line x1="127.69999999999999" y1="265" x2="131.7" y2="265" stroke="#404040" stroke-width="0.9"/>
<line x1="127.69999999999999" y1="273.8" x2="131.7" y2="273.8" stroke="#404040" stroke-width="0.9"/>
<rect x="125.54999999999998" y="268.35" width="8.3" height="2.7999999999999545" fill="#b898a6" stroke="#3e3038" stroke-width="1"/>
<path d="M128.5 271.84999999999997 L130.89999999999998 271.84999999999997 L129.7 267.75 Z" fill="#2a2028"/>
<line x1="146.39999999999998" y1="281.6" x2="156.0" y2="281.6" stroke="#2e1428" stroke-width="1.6"/>
<ellipse cx="151.2" cy="281.8" rx="2.6" ry="1.8" fill="#5a2550"/>
<line x1="165.2" y1="255.5" x2="165.2" y2="261.45000000000005" stroke="#606060" stroke-width="1"/>
<line x1="165.2" y1="267.25" x2="165.2" y2="270.4" stroke="#606060" stroke-width="1"/>
<line x1="163.2" y1="255.5" x2="167.2" y2="255.5" stroke="#404040" stroke-width="0.9"/>
<line x1="163.2" y1="270.4" x2="167.2" y2="270.4" stroke="#404040" stroke-width="0.9"/>
<rect x="160.75" y="261.45000000000005" width="8.9" height="5.7999999999999545" fill="#a6cfa0" stroke="#426242" stroke-width="1"/>
<path d="M163.2 265.9 L167.2 265.9 L165.2 261.8 Z" fill="#2a2028"/>
<line x1="187.6" y1="249" x2="187.6" y2="265.25" stroke="#606060" stroke-width="1"/>
<line x1="187.6" y1="276.04999999999995" x2="187.6" y2="283.5" stroke="#606060" stroke-width="1"/>
<line x1="185.6" y1="249" x2="189.6" y2="249" stroke="#404040" stroke-width="0.9"/>
<line x1="185.6" y1="283.5" x2="189.6" y2="283.5" stroke="#404040" stroke-width="0.9"/>
<rect x="183.15" y="265.25" width="8.9" height="10.799999999999955" fill="#a0c6e8" stroke="#51618a" stroke-width="1"/>
<path d="M185.6 272.29999999999995 L189.6 272.29999999999995 L187.6 268.2 Z" fill="#3a2a80"/>
<circle cx="187.6" cy="242.5" r="0.95" fill="#151515"/>
<circle cx="187.6" cy="246.6" r="0.95" fill="#151515"/>
<line x1="201.6" y1="200.2" x2="201.6" y2="232.54999999999998" stroke="#606060" stroke-width="1"/>
<line x1="201.6" y1="253.35" x2="201.6" y2="272.3" stroke="#606060" stroke-width="1"/>
<line x1="199.6" y1="200.2" x2="203.6" y2="200.2" stroke="#404040" stroke-width="0.9"/>
<line x1="199.6" y1="272.3" x2="203.6" y2="272.3" stroke="#404040" stroke-width="0.9"/>
<rect x="197.15" y="232.54999999999998" width="8.9" height="20.80000000000001" fill="#a6cfa0" stroke="#426242" stroke-width="1"/>
<line x1="197.65" y1="246.6" x2="205.54999999999998" y2="246.6" stroke="#a87862" stroke-width="0.9"/>
<path d="M199.6 244.4 L203.6 244.4 L201.6 240.29999999999998 Z" fill="#2a2028"/>
<circle cx="201.6" cy="186.6" r="0.95" fill="#151515"/>
<circle cx="201.6" cy="191.8" r="0.95" fill="#151515"/>
<circle cx="201.6" cy="194.6" r="0.95" fill="#151515"/>
<circle cx="201.6" cy="196.2" r="0.95" fill="#151515"/>
<line x1="223.1" y1="271" x2="223.1" y2="275.85" stroke="#606060" stroke-width="1"/>
<line x1="223.1" y1="279.65" x2="223.1" y2="284" stroke="#606060" stroke-width="1"/>
<line x1="221.1" y1="271" x2="225.1" y2="271" stroke="#404040" stroke-width="0.9"/>
<line x1="221.1" y1="284" x2="225.1" y2="284" stroke="#404040" stroke-width="0.9"/>
<rect x="218.95" y="275.85" width="8.3" height="3.7999999999999545" fill="#b090bc" stroke="#3a2848" stroke-width="1"/>
<path d="M221.9 279.84999999999997 L224.29999999999998 279.84999999999997 L223.1 275.75 Z" fill="#3a2a80"/>
<circle cx="223.1" cy="258.2" r="0.95" fill="#151515"/>
<circle cx="223.1" cy="265.2" r="0.95" fill="#151515"/>
<circle cx="223.1" cy="266.8" r="0.95" fill="#151515"/>
<circle cx="223.1" cy="268.3" r="0.95" fill="#151515"/>
<circle cx="223.1" cy="269.6" r="0.95" fill="#151515"/>
<circle cx="223.1" cy="285.6" r="0.95" fill="#151515"/>
<line x1="237.6" y1="235.2" x2="237.6" y2="250.75" stroke="#606060" stroke-width="1"/>
<line x1="237.6" y1="260.54999999999995" x2="237.6" y2="275.4" stroke="#606060" stroke-width="1"/>
<line x1="235.6" y1="235.2" x2="239.6" y2="235.2" stroke="#404040" stroke-width="0.9"/>
<line x1="235.6" y1="275.4" x2="239.6" y2="275.4" stroke="#404040" stroke-width="0.9"/>
<rect x="233.15" y="250.75" width="8.9" height="9.799999999999955" fill="#a6cfa0" stroke="#426242" stroke-width="1"/>
<line x1="233.65" y1="255.9" x2="241.54999999999998" y2="255.9" stroke="#a87862" stroke-width="0.9"/>
<path d="M235.6 255.6 L239.6 255.6 L237.6 251.49999999999997 Z" fill="#2a2028"/>
<circle cx="237.6" cy="199.2" r="0.95" fill="#151515"/>
<circle cx="237.6" cy="203.2" r="0.95" fill="#151515"/>
<circle cx="237.6" cy="207" r="0.95" fill="#151515"/>
<circle cx="237.6" cy="212" r="0.95" fill="#151515"/>
<circle cx="237.6" cy="216.4" r="0.95" fill="#151515"/>
<circle cx="237.6" cy="220.8" r="0.95" fill="#151515"/>
<circle cx="237.6" cy="224" r="0.95" fill="#151515"/>
<circle cx="237.6" cy="227.9" r="0.95" fill="#151515"/>
<circle cx="237.6" cy="231.2" r="0.95" fill="#151515"/>
<circle cx="237.6" cy="233.5" r="0.95" fill="#151515"/>
<circle cx="237.6" cy="278.3" r="0.95" fill="#151515"/>
<circle cx="237.6" cy="280.9" r="0.95" fill="#151515"/>
<line x1="259.2" y1="236.3" x2="259.2" y2="259.05" stroke="#606060" stroke-width="1"/>
<line x1="259.2" y1="272.95" x2="259.2" y2="283.5" stroke="#606060" stroke-width="1"/>
<line x1="257.2" y1="236.3" x2="261.2" y2="236.3" stroke="#404040" stroke-width="0.9"/>
<line x1="257.2" y1="283.5" x2="261.2" y2="283.5" stroke="#404040" stroke-width="0.9"/>
<rect x="254.75" y="259.05" width="8.9" height="13.899999999999977" fill="#a0c6e8" stroke="#51618a" stroke-width="1"/>
<path d="M257.2 267.59999999999997 L261.2 267.59999999999997 L259.2 263.5 Z" fill="#3a2a80"/>
<circle cx="259.2" cy="227.4" r="0.95" fill="#151515"/>
<circle cx="259.2" cy="229.8" r="0.95" fill="#151515"/>
<line x1="273.9" y1="187.1" x2="273.9" y2="227.75" stroke="#606060" stroke-width="1"/>
<line x1="273.9" y1="253.55" x2="273.9" y2="274.4" stroke="#606060" stroke-width="1"/>
<line x1="271.9" y1="187.1" x2="275.9" y2="187.1" stroke="#404040" stroke-width="0.9"/>
<line x1="271.9" y1="274.4" x2="275.9" y2="274.4" stroke="#404040" stroke-width="0.9"/>
<rect x="269.45" y="227.75" width="8.9" height="25.80000000000001" fill="#a6cfa0" stroke="#426242" stroke-width="1"/>
<line x1="269.95" y1="241.7" x2="277.84999999999997" y2="241.7" stroke="#a87862" stroke-width="0.9"/>
<path d="M271.9 239.70000000000002 L275.9 239.70000000000002 L273.9 235.6 Z" fill="#2a2028"/>
<circle cx="273.9" cy="170.2" r="0.95" fill="#151515"/>
<circle cx="273.9" cy="173.4" r="0.95" fill="#151515"/>
<circle cx="273.9" cy="178.4" r="0.95" fill="#151515"/>
<circle cx="273.9" cy="182.4" r="0.95" fill="#151515"/>
<line x1="295.2" y1="257" x2="295.2" y2="267.95000000000005" stroke="#606060" stroke-width="1"/>
<line x1="295.2" y1="274.75" x2="295.2" y2="285.4" stroke="#606060" stroke-width="1"/>
<line x1="293.2" y1="257" x2="297.2" y2="257" stroke="#404040" stroke-width="0.9"/>
<line x1="293.2" y1="285.4" x2="297.2" y2="285.4" stroke="#404040" stroke-width="0.9"/>
<rect x="290.75" y="267.95000000000005" width="8.9" height="6.7999999999999545" fill="#a0c6e8" stroke="#51618a" stroke-width="1"/>
<path d="M293.2 272.7 L297.2 272.7 L295.2 268.6 Z" fill="#3a2a80"/>
<circle cx="295.2" cy="240.6" r="0.95" fill="#151515"/>
<circle cx="295.2" cy="246.2" r="0.95" fill="#151515"/>
<circle cx="295.2" cy="252.2" r="0.95" fill="#151515"/>
<circle cx="295.2" cy="254.6" r="0.95" fill="#151515"/>
<line x1="309.8" y1="222.4" x2="309.8" y2="244.35" stroke="#606060" stroke-width="1"/>
<line x1="309.8" y1="258.54999999999995" x2="309.8" y2="279.4" stroke="#606060" stroke-width="1"/>
<line x1="307.8" y1="222.4" x2="311.8" y2="222.4" stroke="#404040" stroke-width="0.9"/>
<line x1="307.8" y1="279.4" x2="311.8" y2="279.4" stroke="#404040" stroke-width="0.9"/>
<rect x="305.35" y="244.35" width="8.9" height="14.19999999999996" fill="#a6cfa0" stroke="#426242" stroke-width="1"/>
<path d="M307.8 252.20000000000002 L311.8 252.20000000000002 L309.8 248.1 Z" fill="#2a2028"/>
<circle cx="309.8" cy="194.8" r="0.95" fill="#151515"/>
<circle cx="309.8" cy="201" r="0.95" fill="#151515"/>
<circle cx="309.8" cy="207.6" r="0.95" fill="#151515"/>
<circle cx="309.8" cy="210.3" r="0.95" fill="#151515"/>
<circle cx="309.8" cy="214.2" r="0.95" fill="#151515"/>
<circle cx="309.8" cy="216.9" r="0.95" fill="#151515"/>
<circle cx="309.8" cy="219" r="0.95" fill="#151515"/>
<line x1="331.6" y1="276" x2="331.6" y2="283.45000000000005" stroke="#606060" stroke-width="1"/>
<line x1="331.6" y1="288.75" x2="331.6" y2="289.8" stroke="#606060" stroke-width="1"/>
<line x1="329.6" y1="276" x2="333.6" y2="276" stroke="#404040" stroke-width="0.9"/>
<line x1="329.6" y1="289.8" x2="333.6" y2="289.8" stroke="#404040" stroke-width="0.9"/>
<rect x="327.15000000000003" y="283.45000000000005" width="8.9" height="5.2999999999999545" fill="#a0c6e8" stroke="#51618a" stroke-width="1"/>
<path d="M329.6 287.29999999999995 L333.6 287.29999999999995 L331.6 283.2 Z" fill="#3a2a80"/>
<line x1="345.6" y1="247.7" x2="345.6" y2="267.95000000000005" stroke="#606060" stroke-width="1"/>
<line x1="345.6" y1="288.75" x2="345.6" y2="290" stroke="#606060" stroke-width="1"/>
<line x1="343.6" y1="247.7" x2="347.6" y2="247.7" stroke="#404040" stroke-width="0.9"/>
<line x1="343.6" y1="290" x2="347.6" y2="290" stroke="#404040" stroke-width="0.9"/>
<rect x="341.15000000000003" y="267.95000000000005" width="8.9" height="20.799999999999955" fill="#a6cfa0" stroke="#426242" stroke-width="1"/>
<line x1="341.65000000000003" y1="283" x2="349.55" y2="283" stroke="#a87862" stroke-width="0.9"/>
<path d="M343.6 279.79999999999995 L347.6 279.79999999999995 L345.6 275.7 Z" fill="#2a2028"/>
<line x1="367.3" y1="273.8" x2="367.3" y2="278.65000000000003" stroke="#606060" stroke-width="1"/>
<line x1="367.3" y1="286.25" x2="367.3" y2="289.3" stroke="#606060" stroke-width="1"/>
<line x1="365.3" y1="273.8" x2="369.3" y2="273.8" stroke="#404040" stroke-width="0.9"/>
<line x1="365.3" y1="289.3" x2="369.3" y2="289.3" stroke="#404040" stroke-width="0.9"/>
<rect x="362.85" y="278.65000000000003" width="8.9" height="7.599999999999966" fill="#a0c6e8" stroke="#51618a" stroke-width="1"/>
<path d="M365.3 283.9 L369.3 283.9 L367.3 279.8 Z" fill="#3a2a80"/>
<line x1="381.9" y1="248.4" x2="381.9" y2="256.35" stroke="#606060" stroke-width="1"/>
<line x1="381.9" y1="279.04999999999995" x2="381.9" y2="288.4" stroke="#606060" stroke-width="1"/>
<line x1="379.9" y1="248.4" x2="383.9" y2="248.4" stroke="#404040" stroke-width="0.9"/>
<line x1="379.9" y1="288.4" x2="383.9" y2="288.4" stroke="#404040" stroke-width="0.9"/>
<rect x="377.45" y="256.35" width="8.9" height="22.699999999999932" fill="#a6cfa0" stroke="#426242" stroke-width="1"/>
<line x1="377.95" y1="261.3" x2="385.84999999999997" y2="261.3" stroke="#a87862" stroke-width="0.9"/>
<path d="M379.9 268.9 L383.9 268.9 L381.9 264.8 Z" fill="#2a2028"/>
<line x1="403.4" y1="269.7" x2="403.4" y2="274.55" stroke="#606060" stroke-width="1"/>
<line x1="403.4" y1="282.45" x2="403.4" y2="288.1" stroke="#606060" stroke-width="1"/>
<line x1="401.4" y1="269.7" x2="405.4" y2="269.7" stroke="#404040" stroke-width="0.9"/>
<line x1="401.4" y1="288.1" x2="405.4" y2="288.1" stroke="#404040" stroke-width="0.9"/>
<rect x="398.95" y="274.55" width="8.9" height="7.899999999999977" fill="#a0c6e8" stroke="#51618a" stroke-width="1"/>
<path d="M401.4 280.9 L405.4 280.9 L403.4 276.8 Z" fill="#3a2a80"/>
<line x1="417.7" y1="245.4" x2="417.7" y2="252.95" stroke="#606060" stroke-width="1"/>
<line x1="417.7" y1="272.95" x2="417.7" y2="283.3" stroke="#606060" stroke-width="1"/>
<line x1="415.7" y1="245.4" x2="419.7" y2="245.4" stroke="#404040" stroke-width="0.9"/>
<line x1="415.7" y1="283.3" x2="419.7" y2="283.3" stroke="#404040" stroke-width="0.9"/>
<rect x="413.25" y="252.95" width="8.9" height="20.0" fill="#a6cfa0" stroke="#426242" stroke-width="1"/>
<line x1="413.75" y1="264.3" x2="421.65" y2="264.3" stroke="#a87862" stroke-width="0.9"/>
<path d="M415.7 265.2 L419.7 265.2 L417.7 261.1 Z" fill="#2a2028"/>
<line x1="439.3" y1="269.3" x2="439.3" y2="274.85" stroke="#606060" stroke-width="1"/>
<line x1="439.3" y1="286.95" x2="439.3" y2="288.5" stroke="#606060" stroke-width="1"/>
<line x1="437.3" y1="269.3" x2="441.3" y2="269.3" stroke="#404040" stroke-width="0.9"/>
<line x1="437.3" y1="288.5" x2="441.3" y2="288.5" stroke="#404040" stroke-width="0.9"/>
<rect x="434.85" y="274.85" width="8.9" height="12.099999999999966" fill="#a0c6e8" stroke="#51618a" stroke-width="1"/>
<path d="M437.3 284.0 L441.3 284.0 L439.3 279.90000000000003 Z" fill="#3a2a80"/>
<line x1="453.8" y1="231.8" x2="453.8" y2="255.65" stroke="#606060" stroke-width="1"/>
<line x1="453.8" y1="285.95" x2="453.8" y2="288.8" stroke="#606060" stroke-width="1"/>
<line x1="451.8" y1="231.8" x2="455.8" y2="231.8" stroke="#404040" stroke-width="0.9"/>
<line x1="451.8" y1="288.8" x2="455.8" y2="288.8" stroke="#404040" stroke-width="0.9"/>
<rect x="449.35" y="255.65" width="8.9" height="30.299999999999983" fill="#a6cfa0" stroke="#426242" stroke-width="1"/>
<line x1="449.85" y1="275.3" x2="457.75" y2="275.3" stroke="#a87862" stroke-width="0.9"/>
<path d="M451.8 271.2 L455.8 271.2 L453.8 267.1 Z" fill="#2a2028"/>
<line x1="471.35" y1="284.8" x2="478.85" y2="284.8" stroke="#2e1428" stroke-width="1.6"/>
<ellipse cx="475.1" cy="285.0" rx="2.6" ry="1.8" fill="#5a2550"/>
<circle cx="475.1" cy="282.2" r="0.8" fill="#222"/>
<line x1="489.4" y1="270.3" x2="489.4" y2="274.75" stroke="#606060" stroke-width="1"/>
<line x1="489.4" y1="279.95" x2="489.4" y2="282.4" stroke="#606060" stroke-width="1"/>
<line x1="487.4" y1="270.3" x2="491.4" y2="270.3" stroke="#404040" stroke-width="0.9"/>
<line x1="487.4" y1="282.4" x2="491.4" y2="282.4" stroke="#404040" stroke-width="0.9"/>
<rect x="484.95" y="274.75" width="8.9" height="5.199999999999989" fill="#a6cfa0" stroke="#426242" stroke-width="1"/>
<path d="M487.4 279.45 L491.4 279.45 L489.4 275.35 Z" fill="#2a2028"/>
<rect x="34.2" y="164.5" width="464.1" height="130.7" fill="none" stroke="#707070" stroke-width="1.4"/>
</svg></body></html>
